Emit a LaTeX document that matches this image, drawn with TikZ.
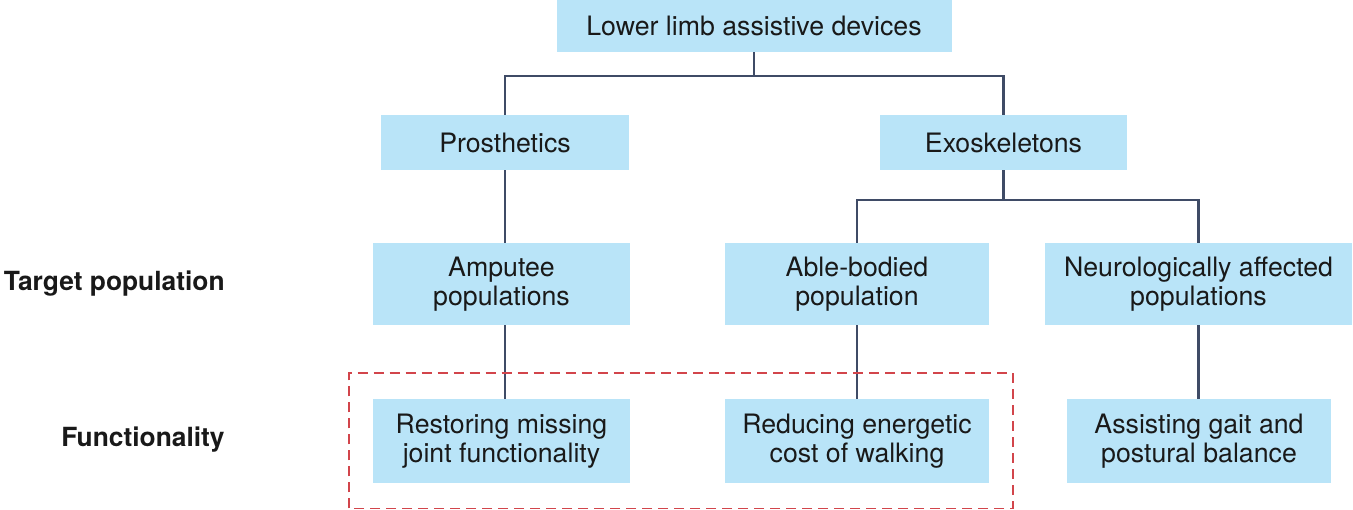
\documentclass[tikz,border=0pt]{standalone}
\usepackage{fontspec}
\setmainfont{TeX Gyre Heros}
\usepackage{xcolor}
\usepackage{tikz}
\usetikzlibrary{positioning, calc}
\definecolor{boxblue}{HTML}{B9E4F8}
\definecolor{linkgray}{HTML}{3F4B66}
\definecolor{dashred}{HTML}{D2454B}
\tikzstyle{devbox} = [rectangle, fill=boxblue, text centered, align=center, inner sep=0pt, font=\fontsize{15.2}{16.2}\selectfont, text=black!90]
\tikzstyle{link} = [draw=linkgray, line width=1.2pt]
\tikzstyle{rowlabel} = [anchor=east, inner sep=0pt, font=\fontsize{15}{16}\selectfont\bfseries, text=black!90]

\begin{document}
\begin{tikzpicture}
    \useasboundingbox (0,0) rectangle (27.06,10.2);
    % Device types
    \node[devbox, minimum width=7.9cm, minimum height=1.04cm] (root) at (15.08, 9.68) {Lower limb assistive devices};
    \node[devbox, minimum width=4.96cm, minimum height=1.1cm] (pros) at (10.10, 7.35) {Prosthetics};
    \node[devbox, minimum width=4.94cm, minimum height=1.1cm] (exo) at (20.07, 7.35) {Exoskeletons};

    % Target population
    \node[devbox, minimum width=5.14cm, minimum height=1.64cm] (amp) at (10.03, 4.52) {Amputee\\populations};
    \node[devbox, minimum width=5.28cm, minimum height=1.64cm] (able) at (17.14, 4.52) {Able-bodied\\population};
    \node[devbox, minimum width=6.14cm, minimum height=1.64cm] (neuro) at (23.97, 4.52) {Neurologically affected\\populations};

    % Functionality
    \node[devbox, minimum width=5.14cm, minimum height=1.68cm] (restore) at (10.03, 1.38) {Restoring missing\\joint functionality};
    \node[devbox, minimum width=5.28cm, minimum height=1.68cm] (reduce) at (17.14, 1.38) {Reducing energetic\\cost of walking};
    \node[devbox, minimum width=5.28cm, minimum height=1.68cm] (assist) at (23.98, 1.38) {Assisting gait and\\postural balance};

    % Row labels
    \node[rowlabel] (tplab) at (4.5, 4.52) {Target population};
    \node[rowlabel] (fnlab) at (4.5, 1.40) {Functionality};

    % Tree links
    \draw[link] (root.south) -- ++(0,-0.48) -| (pros.north);
    \draw[link] (root.south) -- ++(0,-0.48) -| (exo.north);
    \draw[link] (exo.south) -- ++(0,-0.6) -| (able.north);
    \draw[link] (exo.south) -- ++(0,-0.6) -| (neuro.north);
    \draw[link] (pros.south) -- (pros.south |- amp.north);
    \draw[link] (pros.south |- amp.south) -- (pros.south |- restore.north);
    \draw[link] (able.south) -- (restore.north -| able.south);
    \draw[link] (neuro.south) -- (assist.north -| neuro.south);

    % Dashed group
    \draw[dashred, line width=1.1pt, dash pattern=on 0.2cm off 0.12cm] (6.98, 0.03) rectangle (20.26, 2.74);
\end{tikzpicture}
\end{document}
